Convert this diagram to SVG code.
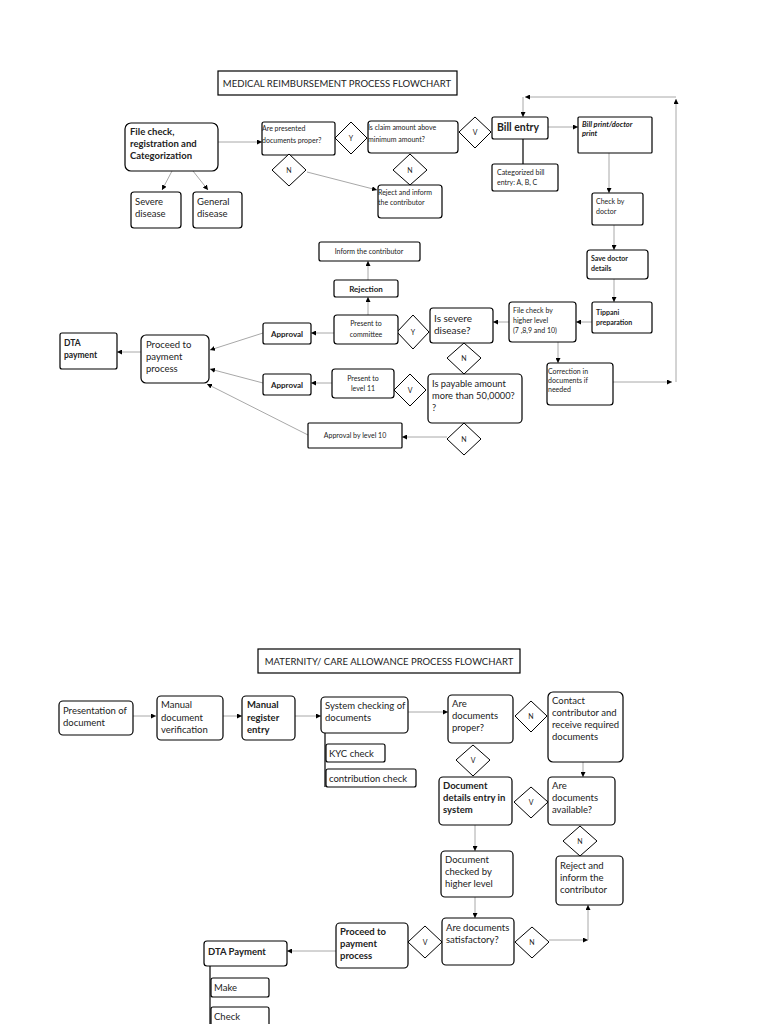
<svg xmlns="http://www.w3.org/2000/svg" width="768" height="1024" viewBox="0 0 768 1024">
<defs>
<marker id="ah" viewBox="0 0 10 10" refX="10" refY="5" markerWidth="5" markerHeight="5" orient="auto" markerUnits="userSpaceOnUse"><path d="M0,0 L10,5 L0,10 z" fill="#000"/></marker>
<style>
.b{fill:#fff;stroke:#000;stroke-width:1.2}
.d{fill:#fff;stroke:#000;stroke-width:1}
.c{fill:none;stroke:#a8a8a8;stroke-width:1}
.k{fill:none;stroke:#000;stroke-width:1.2}
text{font-family:Lato,"Open Sans","Liberation Sans",sans-serif;fill:#222}
.s7{font-size:7px}
.s8{font-size:8px}
.s9{font-size:9.5px}
.s10{font-size:10px}
.bd{font-weight:bold}
.m{text-anchor:middle}
.dl{font-size:7px;text-anchor:middle}
</style>
</defs>
<rect width="768" height="1024" fill="#fff"/>

<!-- ===== TOP FLOWCHART ===== -->
<g id="title1"><rect x="218" y="71" width="239" height="24" class="b" rx="0"/><text x="337" y="87" class="s9 m">MEDICAL REIMBURSEMENT PROCESS FLOWCHART</text></g>

<g id="connectors-top">
<line x1="218" y1="142" x2="262" y2="142" class="c" marker-end="url(#ah)"/>
<line x1="172" y1="171" x2="162" y2="190" class="c" marker-end="url(#ah)"/>
<line x1="193" y1="171" x2="208" y2="190" class="c" marker-end="url(#ah)"/>
<line x1="307" y1="172" x2="377" y2="190" class="c" marker-end="url(#ah)"/>
<line x1="523" y1="139" x2="523" y2="164" class="k"/>
<line x1="548" y1="127" x2="578" y2="127" class="c" marker-end="url(#ah)"/>
<line x1="609" y1="153" x2="609" y2="193" class="c" marker-end="url(#ah)"/>
<line x1="614" y1="225" x2="614" y2="250" class="c" marker-end="url(#ah)"/>
<line x1="614" y1="279" x2="614" y2="302" class="c" marker-end="url(#ah)"/>
<line x1="592" y1="322" x2="576" y2="322" class="c" marker-end="url(#ah)"/>
<line x1="509" y1="322" x2="493" y2="322" class="c" marker-end="url(#ah)"/>
<line x1="558" y1="342" x2="558" y2="363" class="c" marker-end="url(#ah)"/>
<line x1="613" y1="382" x2="672" y2="382" class="c" marker-end="url(#ah)"/>
<line x1="676" y1="382" x2="676" y2="99" class="c" marker-end="url(#ah)"/>
<line x1="676" y1="97" x2="525" y2="97" class="c" marker-end="url(#ah)"/>
<line x1="523" y1="97" x2="523" y2="117" class="c" marker-end="url(#ah)"/>
<line x1="368" y1="315" x2="368" y2="297" class="c" marker-end="url(#ah)"/>
<line x1="368" y1="280" x2="368" y2="261" class="c" marker-end="url(#ah)"/>
<line x1="334" y1="333" x2="311" y2="333" class="c" marker-end="url(#ah)"/>
<line x1="332" y1="383" x2="311" y2="383" class="c" marker-end="url(#ah)"/>
<line x1="447" y1="437" x2="402" y2="437" class="c" marker-end="url(#ah)"/>
<line x1="263" y1="333" x2="210" y2="350" class="c" marker-end="url(#ah)"/>
<line x1="263" y1="383" x2="210" y2="369" class="c" marker-end="url(#ah)"/>
<line x1="308" y1="435" x2="207" y2="384" class="c" marker-end="url(#ah)"/>
<line x1="141" y1="352" x2="117" y2="352" class="c" marker-end="url(#ah)"/>
</g>

<g id="filecheck"><rect x="125" y="123" width="93" height="48" rx="6" class="b"/><text x="130" y="135" class="s9 bd">File check,</text><text x="130" y="147" class="s9 bd">registration and</text><text x="130" y="159" class="s9 bd">Categorization</text></g>
<g id="severe"><rect x="131" y="192" width="50" height="36" rx="3" class="b"/><text x="135" y="205" class="s9">Severe</text><text x="135" y="217" class="s9">disease</text></g>
<g id="general"><rect x="193" y="192" width="49" height="36" rx="3" class="b"/><text x="197" y="205" class="s9">General</text><text x="197" y="217" class="s9">disease</text></g>
<g id="docsproper"><rect x="262" y="122" width="73" height="33" rx="2" class="b"/><text x="262" y="131" class="s7">Are presented</text><text x="262" y="143" class="s7">documents proper?</text></g>
<g id="dY1"><polygon points="351,122 367,138 351,154 335,138" class="d"/><text x="351" y="141" class="dl">Y</text></g>
<g id="claim"><rect x="368" y="121" width="90" height="32" rx="3" class="b"/><text x="368" y="130" class="s7">Is claim amount above</text><text x="368" y="142" class="s7">minimum amount?</text></g>
<g id="dV1"><polygon points="475,117 491,132 475,148 459,132" class="d"/><text x="475" y="135" class="dl">V</text></g>
<g id="dN1"><polygon points="289,154 306,170 289,186 272,170" class="d"/><text x="289" y="173" class="dl">N</text></g>
<g id="dN2"><polygon points="410,154 427,170 410,185 393,170" class="d"/><text x="410" y="173" class="dl">N</text></g>
<g id="reject1"><rect x="378" y="185" width="64" height="33" rx="3" class="b"/><text x="378" y="195" class="s7">Reject and inform</text><text x="378" y="205" class="s7">the contributor</text></g>
<g id="billentry"><rect x="492" y="117" width="56" height="22" rx="2" class="b"/><text x="497" y="131" class="bd" font-size="10.5">Bill entry</text></g>
<g id="categorized"><rect x="492" y="164" width="66" height="27" rx="2" class="b"/><text x="497" y="175" class="s7">Categorized bill</text><text x="497" y="185" class="s7">entry: A, B, C</text></g>
<g id="billprint"><rect x="578" y="117" width="74" height="36" rx="1" class="b"/><text x="582" y="127" class="bd" font-size="7.5" font-style="italic">Bill print/doctor</text><text x="582" y="136" class="bd" font-size="7.5" font-style="italic">print</text></g>
<g id="checkdoctor"><rect x="592" y="193" width="51" height="32" rx="2" class="b"/><text x="596" y="204" class="s7">Check by</text><text x="596" y="214" class="s7">doctor</text></g>
<g id="savedoctor"><rect x="587" y="250" width="61" height="29" rx="3" class="b"/><text x="591" y="261" class="s7 bd">Save doctor</text><text x="591" y="271" class="s7 bd">details</text></g>
<g id="tippani"><rect x="592" y="302" width="60" height="31" rx="2" class="b"/><text x="596" y="315" class="s7 bd">Tippani</text><text x="596" y="325" class="s7 bd">preparation</text></g>
<g id="filecheckhigher"><rect x="509" y="302" width="67" height="40" rx="3" class="b"/><text x="513" y="313" class="s7" fill="#444">File check by</text><text x="513" y="323" class="s7" fill="#444">higher level</text><text x="513" y="333" class="s7" fill="#444">(7 ,8,9  and 10)</text></g>
<g id="correction"><rect x="547" y="363" width="66" height="42" rx="3" class="b"/><text x="548" y="374" class="s7">Correction in</text><text x="548" y="383" class="s7">documents if</text><text x="548" y="392" class="s7">needed</text></g>
<g id="issevere"><rect x="430" y="308" width="63" height="35" rx="3" class="b"/><text x="434" y="322" class="s10">Is severe</text><text x="434" y="334" class="s10">disease?</text></g>
<g id="dY2"><polygon points="413,315 429,332 413,349 397,332" class="d"/><text x="413" y="335" class="dl">Y</text></g>
<g id="committee"><rect x="334" y="315" width="64" height="29" rx="3" class="b"/><text x="366" y="326" class="s7 m" fill="#444">Present to</text><text x="366" y="337" class="s7 m" fill="#444">committee</text></g>
<g id="rejection"><rect x="334" y="280" width="64" height="17" rx="2" class="b"/><text x="366" y="292" class="s8 bd m">Rejection</text></g>
<g id="inform"><rect x="319" y="242" width="101" height="19" rx="2" class="b"/><text x="369" y="254" class="s7 m">Inform the contributor</text></g>
<g id="approval1"><rect x="263" y="323" width="48" height="21" rx="2" class="b"/><text x="287" y="337" class="s8 bd m">Approval</text></g>
<g id="dN3"><polygon points="464,343 481,358 464,374 447,358" class="d"/><text x="464" y="361" class="dl">N</text></g>
<g id="payable"><rect x="428" y="374" width="94" height="49" rx="4" class="b"/><text x="432" y="387" font-size="9.3">Is payable amount</text><text x="432" y="399" font-size="9.3">more than 50,0000?</text><text x="432" y="411" font-size="9.3">?</text></g>
<g id="dV2"><polygon points="410,374 426,390 410,406 394,390" class="d"/><text x="410" y="393" class="dl">V</text></g>
<g id="level11"><rect x="332" y="369" width="62" height="29" rx="3" class="b"/><text x="363" y="381" class="s7 m" fill="#444">Present to</text><text x="363" y="391" class="s7 m" fill="#444">level 11</text></g>
<g id="approval2"><rect x="263" y="374" width="48" height="21" rx="2" class="b"/><text x="287" y="388" class="s8 bd m">Approval</text></g>
<g id="dN4"><polygon points="464,423 481,439 464,455 447,439" class="d"/><text x="464" y="442" class="dl">N</text></g>
<g id="level10"><rect x="308" y="423" width="94" height="25" rx="1" class="b"/><text x="355" y="438" class="s7 m">Approval by level 10</text></g>
<g id="proceed1"><rect x="141" y="335" width="68" height="48" rx="5" class="b"/><text x="146" y="348" class="s9">Proceed to</text><text x="146" y="360" class="s9">payment</text><text x="146" y="372" class="s9">process</text></g>
<g id="dta1"><rect x="60" y="333" width="57" height="36" rx="2" class="b"/><text x="64" y="346" class="bd" font-size="8.5">DTA</text><text x="64" y="358" class="bd" font-size="8.5">payment</text></g>

<!-- ===== BOTTOM FLOWCHART ===== -->
<g id="title2"><rect x="258" y="649" width="262" height="24" class="b" rx="0"/><text x="389" y="665" class="s9 m">MATERNITY/ CARE ALLOWANCE PROCESS FLOWCHART</text></g>

<g id="connectors-bottom">
<line x1="133" y1="716" x2="156" y2="716" class="c" marker-end="url(#ah)"/>
<line x1="223" y1="716" x2="242" y2="716" class="c" marker-end="url(#ah)"/>
<line x1="295" y1="716" x2="321" y2="716" class="c" marker-end="url(#ah)"/>
<line x1="408" y1="712" x2="448" y2="712" class="c" marker-end="url(#ah)"/>
<line x1="325" y1="733" x2="325" y2="787" class="k"/>
<line x1="583" y1="762" x2="583" y2="777" class="c" marker-end="url(#ah)"/>
<line x1="475" y1="825" x2="475" y2="851" class="c" marker-end="url(#ah)"/>
<line x1="475" y1="897" x2="475" y2="918" class="c" marker-end="url(#ah)"/>
<line x1="549" y1="940" x2="588" y2="940" class="c" marker-end="url(#ah)"/>
<line x1="588" y1="940" x2="588" y2="905" class="c" marker-end="url(#ah)"/>
<line x1="336" y1="951" x2="287" y2="951" class="c" marker-end="url(#ah)"/>
<line x1="210" y1="966" x2="210" y2="1024" class="k"/>
</g>

<g id="presentation"><rect x="59" y="701" width="74" height="34" rx="4" class="b"/><text x="63" y="714" class="s9">Presentation of</text><text x="63" y="726" class="s9">document</text></g>
<g id="manualverif"><rect x="157" y="696" width="66" height="44" rx="4" class="b"/><text x="161" y="708" class="s9">Manual</text><text x="161" y="721" class="s9">document</text><text x="161" y="733" class="s9">verification</text></g>
<g id="manualregister"><rect x="242" y="696" width="53" height="44" rx="4" class="b"/><text x="247" y="708" class="s9 bd">Manual</text><text x="247" y="721" class="s9 bd">register</text><text x="247" y="733" class="s9 bd">entry</text></g>
<g id="systemcheck"><rect x="321" y="697" width="87" height="36" rx="4" class="b"/><text x="325" y="709" class="s9">System checking of</text><text x="325" y="721" class="s9">documents</text></g>
<g id="kyc"><rect x="326" y="744" width="59" height="18" rx="2" class="b"/><text x="329" y="757" class="s9">KYC check</text></g>
<g id="contribution"><rect x="326" y="769" width="90" height="18" rx="2" class="b"/><text x="329" y="782" class="s9">contribution check</text></g>
<g id="docsproper2"><rect x="448" y="695" width="65" height="48" rx="4" class="b"/><text x="452" y="707" class="s9">Are</text><text x="452" y="719" class="s9">documents</text><text x="452" y="731" class="s9">proper?</text></g>
<g id="dN5"><polygon points="531,701 547,716 531,732 515,716" class="d"/><text x="531" y="719" class="dl">N</text></g>
<g id="contact"><rect x="548" y="692" width="75" height="70" rx="5" class="b"/><text x="552" y="704" class="s9">Contact</text><text x="552" y="716" class="s9">contributor and</text><text x="552" y="728" class="s9">receive required</text><text x="552" y="740" class="s9">documents</text></g>
<g id="dV3"><polygon points="473,745 490,760 473,776 456,760" class="d"/><text x="473" y="763" class="dl">V</text></g>
<g id="available"><rect x="548" y="777" width="67" height="48" rx="4" class="b"/><text x="552" y="789" class="s9">Are</text><text x="552" y="801" class="s9">documents</text><text x="552" y="813" class="s9">available?</text></g>
<g id="dV4"><polygon points="531,787 548,802 531,818 514,802" class="d"/><text x="531" y="805" class="dl">V</text></g>
<g id="docentry"><rect x="439" y="777" width="73" height="48" rx="4" class="b"/><text x="443" y="789" class="s9 bd">Document</text><text x="443" y="801" class="s9 bd">details entry in</text><text x="443" y="813" class="s9 bd">system</text></g>
<g id="dN6"><polygon points="580,826 597,841 580,856 563,841" class="d"/><text x="580" y="844" class="dl">N</text></g>
<g id="reject2"><rect x="556" y="856" width="67" height="49" rx="4" class="b"/><text x="560" y="869" class="s9">Reject and</text><text x="560" y="881" class="s9">inform the</text><text x="560" y="893" class="s9">contributor</text></g>
<g id="docchecked"><rect x="441" y="851" width="72" height="46" rx="4" class="b"/><text x="445" y="863" class="s9">Document</text><text x="445" y="875" class="s9">checked by</text><text x="445" y="887" class="s9">higher level</text></g>
<g id="satisfactory"><rect x="442" y="918" width="72" height="47" rx="4" class="b"/><text x="446" y="931" class="s9">Are documents</text><text x="446" y="943" class="s9">satisfactory?</text></g>
<g id="dN7"><polygon points="532,927 549,942 532,958 515,942" class="d"/><text x="532" y="945" class="dl">N</text></g>
<g id="dV5"><polygon points="425,926 442,942 425,958 408,942" class="d"/><text x="425" y="945" class="dl">V</text></g>
<g id="proceed2"><rect x="336" y="923" width="72" height="45" rx="4" class="b"/><text x="340" y="935" class="s9 bd">Proceed to</text><text x="340" y="947" class="s9 bd">payment</text><text x="340" y="959" class="s9 bd">process</text></g>
<g id="dta2"><rect x="204" y="941" width="83" height="25" rx="3" class="b"/><text x="208" y="955" class="s9 bd">DTA Payment</text></g>
<g id="make"><rect x="211" y="978" width="58" height="19" rx="2" class="b"/><text x="214" y="991" class="s9">Make</text></g>
<g id="check"><rect x="211" y="1007" width="58" height="24" rx="2" class="b"/><text x="214" y="1020" class="s9">Check</text></g>
</svg>
